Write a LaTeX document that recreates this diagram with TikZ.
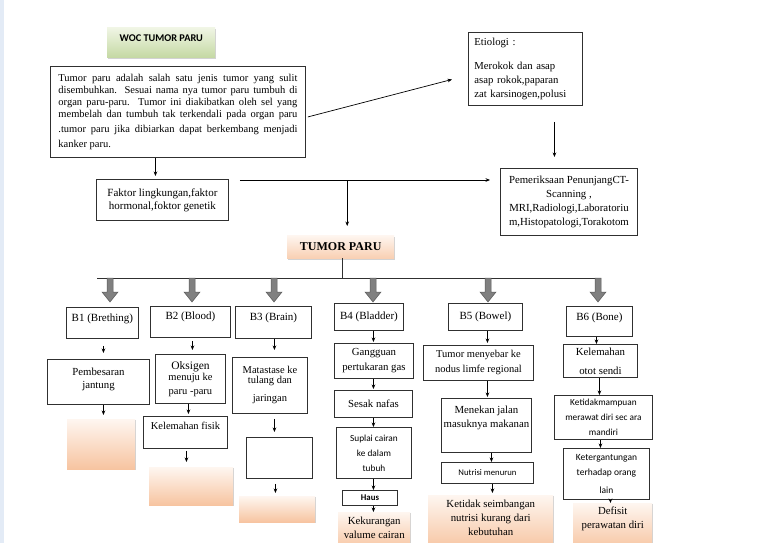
\documentclass[tikz,border=0pt]{standalone}
\usepackage{fontspec}
\setmainfont{Liberation Serif}
\newfontfamily\calib{Carlito}
\usetikzlibrary{arrows.meta,shadows,calc}
\definecolor{linec}{HTML}{303030}
\definecolor{peachA}{HTML}{FEF6F0}
\definecolor{peachB}{HTML}{F7C4A0}
\definecolor{greenA}{HTML}{F1F6E6}
\definecolor{greenB}{HTML}{C5D9A4}
\definecolor{stripc}{HTML}{E3EBF6}
\definecolor{blockc}{HTML}{808080}
\tikzset{
 box/.style={draw=linec, line width=0.9pt, fill=white, anchor=north west, inner sep=1pt, align=center, font=\fontsize{10.5}{12}\selectfont},
 peach/.style={anchor=north west, top color=peachA, bottom color=peachB, drop shadow={shadow xshift=1pt,shadow yshift=-1.2pt,opacity=0.35,fill=gray}, align=center, inner sep=1pt, font=\fontsize{10.5}{14}\selectfont},
 sans/.style={font=\calib\fontsize{9.3}{15}\selectfont},
 lbl/.style={align=center, inner sep=0pt, font=\fontsize{10.5}{12}\selectfont},
 blab/.style={align=center, inner sep=0pt, font=\fontsize{11}{12}\selectfont},
 arr/.style={draw=black, line width=0.7pt, -{Stealth[length=4.5pt,width=3.6pt]}},
 busline/.style={draw=linec, line width=0.8pt},
 blockdn/.pic={\draw[fill=blockc, draw=black!65, line width=0.5pt] (-3,0) -- (-3,14) -- (-8,14) -- (0,24) -- (8,14) -- (3,14) -- (3,0) -- cycle;}
}
\begin{document}
\begin{tikzpicture}[x=1pt,y=-1pt]
\useasboundingbox (0,0) rectangle (768,543);
\fill[white] (0,0) rectangle (768,543);
\fill[stripc] (0,0) rectangle (4,543);

% header
\node[anchor=north west, minimum width=108, minimum height=30, inner sep=0pt, top color=greenA, bottom color=greenB,
  drop shadow={shadow xshift=1.2pt,shadow yshift=-1.5pt,opacity=0.35,fill=gray},
  label={[font=\calib\bfseries\fontsize{10.3}{11}\selectfont, yshift=4pt]center:WOC TUMOR PARU}] (woc) at (107,27) {};

\node[box, minimum width=255, minimum height=91, text width=239, align=justify, inner sep=0pt, font=\fontsize{10.5}{12.3}\selectfont] (desc) at (50,66)
{\parindent=0pt\tolerance=10000\parfillskip=0pt
Tumor paru adalah salah satu jenis tumor yang sulit\par
disembuhkan. Sesuai nama nya tumor paru tumbuh di\par
organ paru-paru. Tumor ini diakibatkan oleh sel yang\par
membelah dan tumbuh tak terkendali pada organ paru\par
\vspace{2.7pt}.tumor paru jika dibiarkan dapat berkembang menjadi\par
\vspace{2.7pt}\parfillskip=0pt plus 1fil kanker paru.};

\node[box, minimum width=114, minimum height=73, text width=102, align=left, inner xsep=6pt, font=\fontsize{10.7}{14}\selectfont] (etio) at (468,32)
{Etiologi :\\[10pt]Merokok dan asap\\asap rokok,paparan\\zat karsinogen,polusi};

\node[box, minimum width=137, minimum height=67, font=\fontsize{10.8}{14.3}\selectfont] (pem) at (500,168)
{Pemeriksaan PenunjangCT-\\Scanning ,\\MRI,Radiologi,Laboratoriu\\m,Histopatologi,Torakotom};

\node[box, minimum width=132, minimum height=41, font=\fontsize{11}{13}\selectfont] (fak) at (96,179)
{Faktor lingkungan,faktor\\hormonal,foktor genetik};

\node[anchor=north west, minimum width=107, minimum height=23, inner sep=0pt, top color=peachA, bottom color=peachB!80,
  drop shadow={shadow xshift=1.2pt,shadow yshift=-1.5pt,opacity=0.35,fill=gray},
  font=\bfseries\fontsize{12}{13}\selectfont] (tp) at (287,235) {TUMOR PARU};

% top connectors
\draw[arr, shorten <=2pt, shorten >=0pt] ([yshift=-5.5pt]desc.east) -- ([xshift=-16pt,yshift=-10.5pt]etio.west);
\draw[arr, shorten <=16pt, shorten >=11pt] ([xshift=29pt]etio.south) -- ([xshift=29pt]etio.south |- pem.north);
\draw[arr, shorten >=3pt] ([xshift=-22.5pt]desc.south) -- ([xshift=-22.5pt]desc.south |- fak.north);
\coordinate (hstart) at ([xshift=11pt,yshift=-1pt]fak.north east);
\draw[arr, shorten >=10pt] (hstart) -- (hstart -| pem.west);
\draw[arr, shorten >=9pt] ([xshift=6.5pt]tp.north |- hstart) -- ([xshift=6.5pt]tp.north);

% bus
\coordinate (busL) at (97,278);
\coordinate (busR) at (598,278);
\draw[busline] ([xshift=1.5pt]tp.south) -- ([xshift=1.5pt]tp.south |- busL);
\draw[busline] (busL) -- (busR);
\foreach \xx in {110,192,274,373,488,598} \pic at (\xx,278) {blockdn};

% B boxes
\node[box, minimum width=72, minimum height=31, label={[blab,yshift=4pt]center:B1 (Brething)}] (b1) at (66,307) {};
\node[box, minimum width=80, minimum height=31, label={[blab,yshift=5pt]center:B2 (Blood)}] (b2) at (150,306) {};
\node[box, minimum width=76, minimum height=32, label={[blab,yshift=5pt]center:B3 (Brain)}] (b3) at (235,306) {};
\node[box, minimum width=69, minimum height=27, font=\fontsize{11}{12}\selectfont] (b4) at (334,303) {B4 (Bladder)};
\node[box, minimum width=74, minimum height=27, font=\fontsize{11}{12}\selectfont] (b5) at (448,303) {B5 (Bowel)};
\node[box, minimum width=66, minimum height=30, label={[blab,yshift=4pt]center:B6 (Bone)}] (b6) at (566,306) {};

% B1 column
\node[box, minimum width=102, minimum height=45, label={[lbl,font=\fontsize{10.8}{13}\selectfont,yshift=3pt]center:Pembesaran\\jantung}] (p1) at (47,359) {};
\node[peach, minimum width=68, minimum height=50] (q1) at (67,419) {};

% B2 column
\node[box, minimum width=70, minimum height=49, font=\fontsize{10.5}{11}\selectfont] (o2) at (155,354)
{{\fontsize{11.5}{11}\selectfont Oksigen}\\[0.5pt]menuju ke\\[3pt]paru -paru};
\node[box, minimum width=84, minimum height=32, label={[lbl,yshift=7pt]center:Kelemahan fisik}] (k2) at (143,416) {};
\node[peach, minimum width=84, minimum height=38] (q2) at (149,467) {};

% B3 column
\node[box, minimum width=75, minimum height=56, font=\fontsize{10.5}{12}\selectfont] (m3) at (232,357)
{Matastase ke\\[-2pt]tulang dan\\[6pt]jaringan};
\node[box, minimum width=66, minimum height=41] (e3) at (246,437) {};
\node[peach, minimum width=76, minimum height=26] (q3) at (239,496) {};

% B4 column
\node[box, minimum width=79, minimum height=35, font=\fontsize{10.8}{15}\selectfont] (g4) at (334,343) {Gangguan\\pertukaran gas};
\node[box, minimum width=78, minimum height=27, font=\fontsize{10.8}{12}\selectfont] (s4) at (334,390) {Sesak nafas};
\node[box, sans, minimum width=75, minimum height=51] (u4) at (336,427) {Suplai cairan\\ke dalam\\tubuh};
\node[box, font=\calib\bfseries\fontsize{8.8}{10}\selectfont, minimum width=55, minimum height=15, inner sep=0pt] (h4) at (342,490) {Haus};
\node[peach, minimum width=72, minimum height=38, label={[lbl,font=\fontsize{10.8}{14}\selectfont,anchor=north,yshift=-5pt]north:Kekurangan\\valume cairan}] (q4) at (338,512) {};

% B5 column
\node[box, minimum width=110, minimum height=35, font=\fontsize{10.5}{15}\selectfont] (t5) at (423,345) {Tumor menyebar ke\\nodus limfe regional};
\node[box, minimum width=90, minimum height=54, label={[lbl,font=\fontsize{10.8}{13.5}\selectfont,yshift=7.5pt]center:Menekan jalan\\masuknya makanan}] (n5) at (441,398) {};
\node[box, sans, font=\calib\fontsize{8.7}{10}\selectfont, minimum width=92, minimum height=21] (r5) at (441,462) {Nutrisi menurun};
\node[peach, minimum width=125, minimum height=55, label={[lbl,font=\fontsize{10.8}{14}\selectfont,anchor=north,yshift=-5pt]north:Ketidak seimbangan\\nutrisi kurang dari\\kebutuhan}] (q5) at (428,495) {};

% B6 column
\node[box, minimum width=74, minimum height=33, font=\fontsize{10.8}{12}\selectfont] (k6) at (563,344) {Kelemahan\\[7pt]otot sendi};
\node[box, font=\calib\fontsize{9.3}{15}\selectfont, minimum width=98, minimum height=44] (d6) at (554,395) {Ketidakmampuan\\merawat diri sec ara\\mandiri};
\node[box, font=\calib\fontsize{9.5}{15}\selectfont, minimum width=86, minimum height=51] (g6) at (563,448) {Ketergantungan\\terhadap orang\\[3pt]lain};
\node[peach, minimum width=79, minimum height=47, label={[lbl,font=\fontsize{10.8}{14}\selectfont,anchor=north,yshift=-4pt]north:Defisit\\perawatan diri}] (q6) at (573,503) {};

% column arrows
\draw[arr, shorten <=7pt, shorten >=6pt] ([xshift=1pt]b1.south) -- ([xshift=1pt]b1.south |- p1.north);
\draw[arr, shorten >=4pt] ([xshift=5pt]p1.south) -- ([xshift=5pt]p1.south |- q1.north);

\draw[arr, shorten <=3pt, shorten >=4pt] ([xshift=2pt]b2.south) -- ([xshift=2pt]b2.south |- o2.north);
\draw[arr, shorten >=2pt] ([xshift=-2pt]o2.south) -- ([xshift=-2pt]o2.south |- k2.north);
\draw[arr, shorten <=2pt, shorten >=5pt] ([xshift=1pt]k2.south) -- ([xshift=1pt]k2.south |- q2.north);

\draw[arr, shorten >=7pt] ([xshift=1pt]b3.south) -- ([xshift=1pt]b3.south |- m3.north);
\draw[arr, shorten <=5pt, shorten >=5pt] ([xshift=4.5pt]m3.south) -- ([xshift=4.5pt]m3.south |- e3.north);
\draw[arr, shorten <=5pt, shorten >=3pt] ([xshift=-4pt]e3.south) -- ([xshift=-4pt]e3.south |- q3.north);

\draw[arr, shorten >=1pt] ([xshift=4.5pt]b4.south) -- ([xshift=4.5pt]b4.south |- g4.north);
\draw[arr, shorten >=1pt] ([xshift=-0.5pt]g4.south) -- ([xshift=-0.5pt]g4.south |- s4.north);
\draw[arr] (s4.south) -- (s4.south |- u4.north);
\draw[arr] ([xshift=-0.5pt]u4.south) -- ([xshift=-0.5pt]u4.south |- h4.north);
\draw[arr] ([xshift=3.5pt]h4.south) -- ([xshift=3.5pt]h4.south |- q4.north);

\draw[arr, shorten >=2pt] ([xshift=2pt]b5.south) -- ([xshift=2pt]b5.south |- t5.north);
\draw[arr, shorten >=1pt] ([xshift=9pt]t5.south) -- ([xshift=9pt]t5.south |- n5.north);
\draw[arr] ([xshift=5pt]n5.south) -- ([xshift=5pt]n5.south |- r5.north);
\draw[arr, shorten >=2pt] ([xshift=5pt]r5.south) -- ([xshift=5pt]r5.south |- q5.north);

\draw[arr] ([xshift=-3pt]b6.south) -- ([xshift=-3pt]b6.south |- k6.north);
\draw[arr] ([xshift=-1pt]k6.south) -- ([xshift=-1pt]k6.south |- d6.north);
\draw[arr] ([xshift=-3pt]d6.south) -- ([xshift=-3pt]d6.south |- g6.north);
\draw[arr] ([xshift=4pt]g6.south) -- ([xshift=4pt]g6.south |- q6.north);
\end{tikzpicture}
\end{document}
